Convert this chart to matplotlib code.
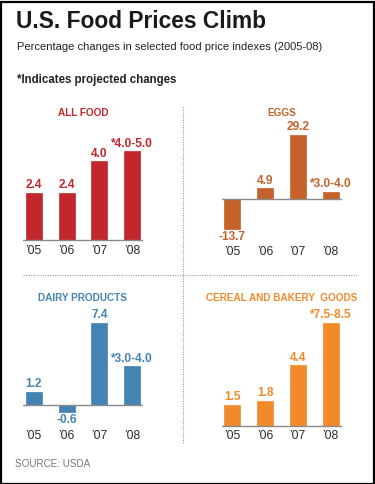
import matplotlib
matplotlib.use("Agg")
import matplotlib.pyplot as plt
import matplotlib.transforms as mtransforms
from matplotlib.patches import Rectangle
from matplotlib.lines import Line2D

years = ["’05", "’06", "’07", "’08"]

all_food = [2.4, 2.4, 4.0, 4.5]
all_food_labels = ["2.4", "2.4", "4.0", "*4.0-5.0"]

eggs = [-13.7, 4.9, 29.2, 3.4]
eggs_labels = ["-13.7", "4.9", "29.2", "*3.0-4.0"]

dairy = [1.2, -0.6, 7.4, 3.5]
dairy_labels = ["1.2", "-0.6", "7.4", "*3.0-4.0"]

cereal = [1.5, 1.8, 4.4, 7.5]
cereal_labels = ["1.5", "1.8", "4.4", "*7.5-8.5"]

W, H = 375, 484
fig = plt.figure(figsize=(W / 100, H / 100), dpi=100)
fig.patch.set_facecolor("white")

FONT = ["Liberation Sans", "DejaVu Sans"]

def fy(py):
    return 1 - py / H

def fx(px):
    return px / W

# header
fig.text(fx(16), fy(22), "U.S. Food Prices Climb", family=FONT, weight="bold",
         fontsize=16.4, color="#1a1a1a", va="center", ha="left")
fig.text(fx(17), fy(47), "Percentage changes in selected food price indexes (2005-08)",
         family=FONT, fontsize=8.05, color="#222222", va="center", ha="left")
fig.text(fx(17), fy(80), "*Indicates projected changes", family=FONT, weight="bold",
         fontsize=8.3, color="#222222", va="center", ha="left")
fig.text(fx(15), fy(464), "SOURCE: USDA", family=FONT, fontsize=7.1,
         color="#777777", va="center", ha="left")

# dividers
fig.add_artist(Line2D([fx(183), fx(183)], [fy(107), fy(443)], color="#9a9a9a",
                      lw=0.8, linestyle=(0, (1, 1.2))))
fig.add_artist(Line2D([fx(23), fx(358)], [fy(275), fy(275)], color="#9a9a9a",
                      lw=0.8, linestyle=(0, (1, 1.2))))

# border
fig.add_artist(Rectangle((0.5 / W, 0.5 / H), (W - 2) / W, (H - 2) / H,
                         transform=fig.transFigure, fill=False, lw=1.6,
                         edgecolor="black"))

panels = [
    dict(title="ALL FOOD", vals=all_food, labs=all_food_labels, color="#C1272D",
         left=23, baseline=240, scale=19.7, top=120, bottom=245, ty=113, ky=251),
    dict(title="EGGS", vals=eggs, labs=eggs_labels, color="#C4622A",
         left=221.5, baseline=199, scale=2.2, top=120, bottom=245, ty=113, ky=251.7),
    dict(title="DAIRY PRODUCTS", vals=dairy, labs=dairy_labels, color="#4384B5",
         left=23, baseline=405.3, scale=11.17, top=305, bottom=428, ty=298, ky=435.7),
    dict(title="CEREAL AND BAKERY  GOODS", vals=cereal, labs=cereal_labels, color="#F28A2B",
         left=221.5, baseline=425.7, scale=13.7, top=305, bottom=430, ty=298, ky=435.7),
]

XMIN, XMAX = -0.33, 3.33
WIDTH_PX = 120

for p in panels:
    ax = fig.add_axes([fx(p["left"]), fy(p["bottom"]), WIDTH_PX / W,
                       (p["bottom"] - p["top"]) / H])
    ax.set_xlim(XMIN, XMAX)
    ax.set_ylim(-(p["bottom"] - p["baseline"]) / p["scale"],
                (p["baseline"] - p["top"]) / p["scale"])
    ax.axis("off")
    x = list(range(len(p["vals"])))
    ax.bar(x, p["vals"], width=0.49, color=p["color"], edgecolor=p["color"],
           linewidth=0.5, zorder=2)
    ax.axhline(0, color="#8a8a8a", lw=1.0, zorder=3)
    for xi, v, lab in zip(x, p["vals"], p["labs"]):
        if v >= 0:
            ax.annotate(lab, (xi, v), xytext=(0, 1.2), textcoords="offset points",
                        ha="center", va="bottom", family=FONT, weight="bold",
                        fontsize=8.6, color=p["color"])
        else:
            ax.annotate(lab, (xi, v), xytext=(0, -1.2), textcoords="offset points",
                        ha="center", va="top", family=FONT, weight="bold",
                        fontsize=8.6, color=p["color"])
    tr = mtransforms.blended_transform_factory(ax.transData, fig.transFigure)
    for xi, y in zip(x, years):
        ax.text(xi, fy(p["ky"]), y, transform=tr, ha="center", va="center",
                family=FONT, fontsize=8.8, color="#2a2a2a")
    tr2 = mtransforms.blended_transform_factory(ax.transAxes, fig.transFigure)
    ax.text(0.5, fy(p["ty"]), p["title"], transform=tr2, ha="center", va="center",
            family=FONT, weight="bold", fontsize=7.2, color=p["color"])

fig.savefig("out.png", dpi=100, facecolor="white")
